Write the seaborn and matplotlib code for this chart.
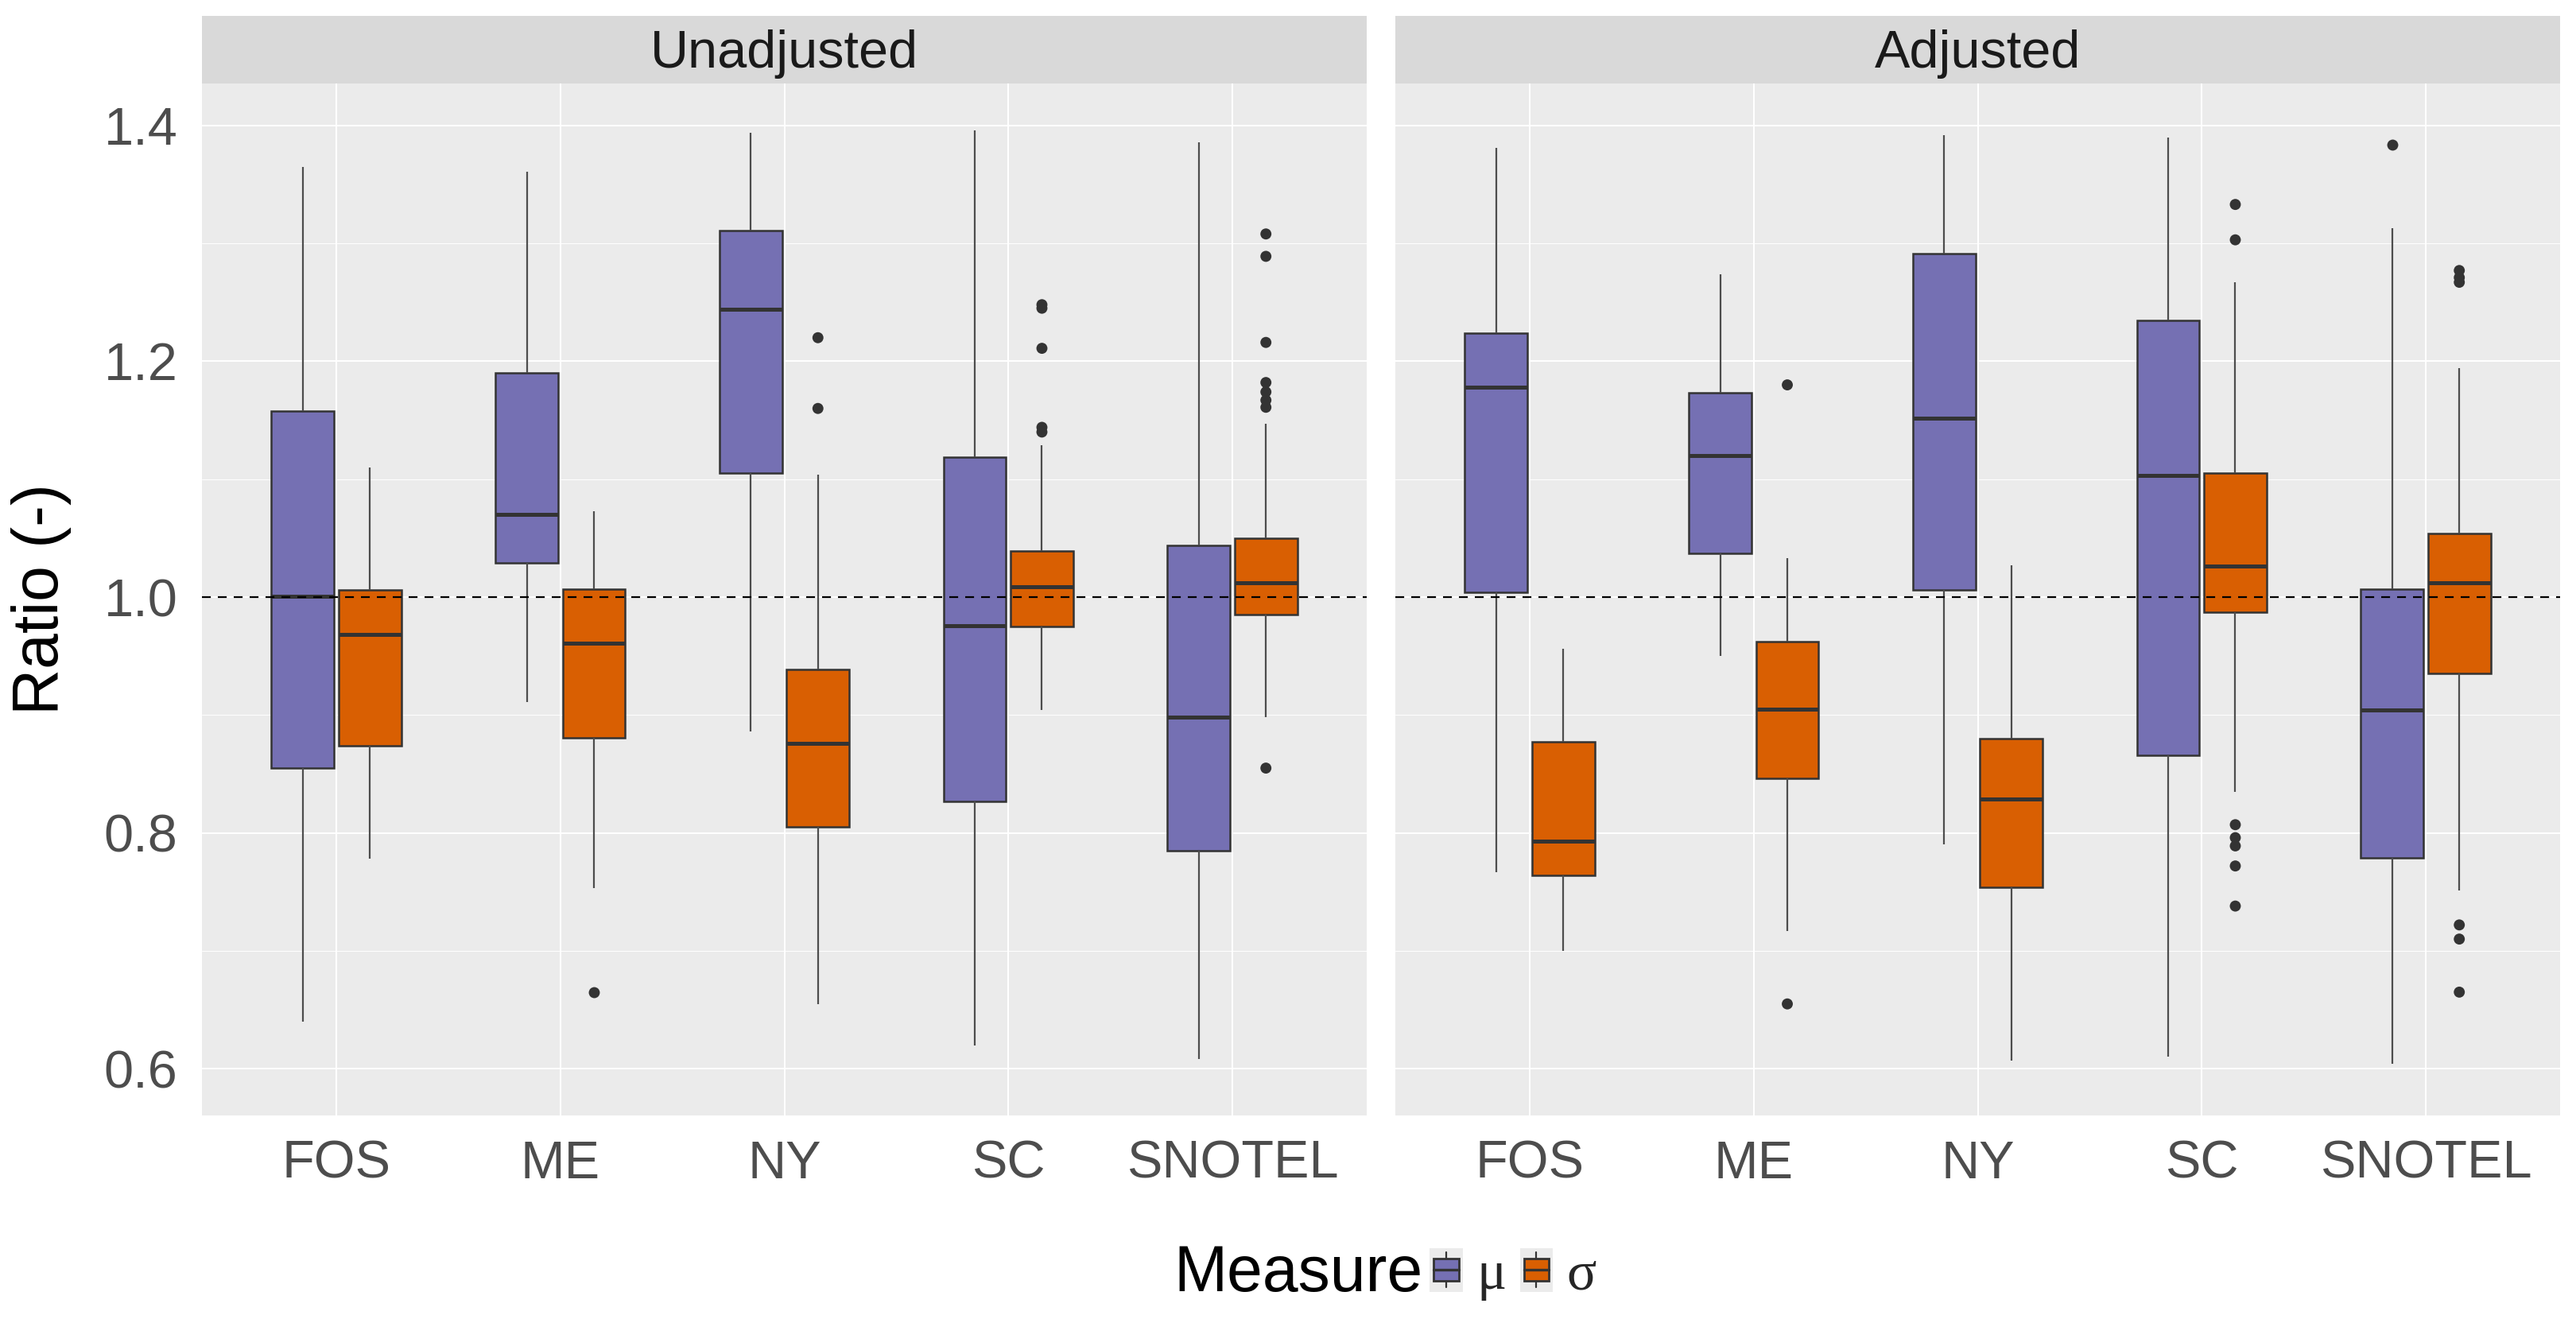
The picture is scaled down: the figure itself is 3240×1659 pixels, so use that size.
import numpy as np
import pandas as pd
import matplotlib
matplotlib.use('Agg')
import matplotlib.pyplot as plt
import seaborn as sns
from matplotlib.patches import Patch, Rectangle
from matplotlib.lines import Line2D
from matplotlib.legend_handler import HandlerBase
from matplotlib.ticker import FixedLocator

# categories
sites = ['FOS', 'ME', 'NY', 'SC', 'SNOTEL']
measures = ['\u03bc', '\u03c3']
panels = ['Unadjusted', 'Adjusted']

# Unadjusted, mu  (whisker low, q1, median, q3, whisker high)
unadj_mu_lo = [0.640, 0.911, 0.886, 0.620, 0.608]
unadj_mu_q1 = [0.855, 1.029, 1.105, 0.827, 0.785]
unadj_mu_med = [1.001, 1.070, 1.244, 0.976, 0.898]
unadj_mu_q3 = [1.158, 1.190, 1.311, 1.119, 1.044]
unadj_mu_hi = [1.365, 1.361, 1.394, 1.396, 1.386]
# Unadjusted, sigma
unadj_sd_lo = [0.778, 0.753, 0.655, 0.904, 0.898]
unadj_sd_q1 = [0.874, 0.881, 0.805, 0.975, 0.985]
unadj_sd_med = [0.968, 0.961, 0.876, 1.009, 1.012]
unadj_sd_q3 = [1.006, 1.007, 0.939, 1.039, 1.050]
unadj_sd_hi = [1.110, 1.073, 1.104, 1.129, 1.147]
# Adjusted, mu
adj_mu_lo = [0.767, 0.950, 0.790, 0.610, 0.604]
adj_mu_q1 = [1.004, 1.037, 1.006, 0.866, 0.779]
adj_mu_med = [1.178, 1.120, 1.152, 1.103, 0.904]
adj_mu_q3 = [1.224, 1.173, 1.291, 1.235, 1.007]
adj_mu_hi = [1.381, 1.274, 1.392, 1.390, 1.313]
# Adjusted, sigma
adj_sd_lo = [0.700, 0.717, 0.607, 0.835, 0.751]
adj_sd_q1 = [0.764, 0.846, 0.754, 0.987, 0.935]
adj_sd_med = [0.793, 0.905, 0.829, 1.026, 1.012]
adj_sd_q3 = [0.877, 0.962, 0.880, 1.105, 1.054]
adj_sd_hi = [0.956, 1.033, 1.027, 1.267, 1.194]

# outliers
unadj_sd_out_site = ['ME', 'NY', 'NY', 'SC', 'SC', 'SC', 'SC', 'SC',
                     'SNOTEL', 'SNOTEL', 'SNOTEL', 'SNOTEL', 'SNOTEL', 'SNOTEL', 'SNOTEL', 'SNOTEL']
unadj_sd_out_val = [0.665, 1.220, 1.160, 1.248, 1.245, 1.211, 1.144, 1.140,
                    1.308, 1.289, 1.216, 1.182, 1.174, 1.167, 1.161, 0.855]
adj_mu_out_site = ['SNOTEL']
adj_mu_out_val = [1.384]
adj_sd_out_site = ['ME', 'ME', 'SC', 'SC', 'SC', 'SC', 'SC', 'SC', 'SC',
                   'SNOTEL', 'SNOTEL', 'SNOTEL', 'SNOTEL', 'SNOTEL', 'SNOTEL']
adj_sd_out_val = [1.180, 0.655, 1.333, 1.303, 0.807, 0.796, 0.789, 0.772, 0.738,
                  1.277, 1.271, 1.267, 0.722, 0.710, 0.665]

colors = {'\u03bc': '#7570B3', '\u03c3': '#D95F02'}
line_col = '#333333'


def box_frame(stats_mu, stats_sd):
    '''five values per box -> quartiles come out exactly, whiskers at min/max'''
    rows = []
    for m, st in zip(measures, [stats_mu, stats_sd]):
        for i, s in enumerate(sites):
            for arr in st:
                rows.append({'site': s, 'measure': m, 'value': arr[i]})
    return pd.DataFrame(rows)


def out_frame(pairs):
    rows = []
    for m, (ss, vv) in pairs:
        for s, v in zip(ss, vv):
            rows.append({'site': s, 'measure': m, 'value': v})
    return pd.DataFrame(rows, columns=['site', 'measure', 'value'])


box_data = {
    'Unadjusted': box_frame(
        [unadj_mu_lo, unadj_mu_q1, unadj_mu_med, unadj_mu_q3, unadj_mu_hi],
        [unadj_sd_lo, unadj_sd_q1, unadj_sd_med, unadj_sd_q3, unadj_sd_hi]),
    'Adjusted': box_frame(
        [adj_mu_lo, adj_mu_q1, adj_mu_med, adj_mu_q3, adj_mu_hi],
        [adj_sd_lo, adj_sd_q1, adj_sd_med, adj_sd_q3, adj_sd_hi]),
}
out_data = {
    'Unadjusted': out_frame([('\u03c3', (unadj_sd_out_site, unadj_sd_out_val))]),
    'Adjusted': out_frame([('\u03bc', (adj_mu_out_site, adj_mu_out_val)),
                           ('\u03c3', (adj_sd_out_site, adj_sd_out_val))]),
}

sns.set_theme(style='darkgrid')
plt.rcParams['font.family'] = ['Liberation Sans', 'DejaVu Sans']
plt.rcParams['axes.facecolor'] = '#EBEBEB'
plt.rcParams['grid.color'] = 'white'


class BoxKey(HandlerBase):
    '''small boxplot glyph on grey key background, ggplot style'''
    def create_artists(self, legend, orig_handle, xdescent, ydescent, width, height, fontsize, trans):
        x0, y0 = -xdescent, -ydescent
        bg = Rectangle((x0, y0), width, height, facecolor='#EBEBEB', edgecolor='none', transform=trans)
        cx = x0 + width / 2
        wl = Line2D([cx, cx], [y0 + 0.1 * height, y0 + 0.9 * height], color=line_col, lw=0.8, transform=trans)
        box = Rectangle((x0 + 0.12 * width, y0 + 0.25 * height), 0.76 * width, 0.5 * height,
                        facecolor=orig_handle.get_facecolor(), edgecolor=line_col, lw=1.0, transform=trans)
        med = Line2D([x0 + 0.12 * width, x0 + 0.88 * width], [y0 + height / 2] * 2,
                     color=line_col, lw=1.2, transform=trans)
        return [bg, wl, box, med]


fig = plt.figure(figsize=(16.205, 8.295), dpi=200)
W, H = 3241, 1659
ax_bottom = 1 - 1403 / H
ax_height = (1403 - 105) / H
strip_height = (105 - 20) / H
lefts = [254 / W, 1755 / W]
width = 1465 / W

for k, panel in enumerate(panels):
    ax = fig.add_axes([lefts[k], ax_bottom, width, ax_height])
    sns.boxplot(data=box_data[panel], x='site', y='value', hue='measure',
                order=sites, hue_order=measures, palette=colors, saturation=1,
                width=0.6, gap=0.07, whis=(0, 100), showfliers=False, showcaps=False,
                linecolor=line_col, linewidth=0.9,
                medianprops={'linewidth': 1.8, 'color': line_col},
                whiskerprops={'linewidth': 0.8, 'color': '#4D4D4D'},
                legend=False, ax=ax)
    n_before = len(ax.collections)
    sns.stripplot(data=out_data[panel], x='site', y='value', hue='measure',
                  order=sites, hue_order=measures, palette={m: line_col for m in measures},
                  dodge=True, jitter=False, size=5, linewidth=0, legend=False, ax=ax)
    # stripplot dodges by 0.8 wide slots, boxes use 0.6: pull points onto box centres
    for coll in ax.collections[n_before:]:
        off = coll.get_offsets()
        if len(off):
            c = np.round(off[:, 0])
            off[:, 0] = c + (off[:, 0] - c) * 0.75
            coll.set_offsets(off)
        coll.set_zorder(4)

    ax.axhline(1.0, color='black', lw=0.8, ls=(0, (5, 4)), zorder=5)

    ax.set_xlim(-0.6, 4.6)
    ax.set_ylim(0.5604, 1.4356)
    ax.set_yticks([0.6, 0.8, 1.0, 1.2, 1.4])
    ax.yaxis.set_minor_locator(FixedLocator([0.7, 0.9, 1.1, 1.3]))
    ax.grid(which='major', color='white', lw=0.75)
    ax.grid(which='minor', axis='y', color='white', lw=0.35)
    ax.set_axisbelow(True)
    for sp in ax.spines.values():
        sp.set_visible(False)
    ax.set_xlabel('')
    ax.set_ylabel('')
    ax.tick_params(axis='both', which='major', length=3, width=0.7, color=line_col,
                   labelsize=24, labelcolor='#4D4D4D', pad=8)
    ax.tick_params(axis='y', which='minor', length=0)
    ax.set_xticks(range(len(sites)))
    ax.set_xticklabels(sites)
    if k == 0:
        ax.set_yticklabels(['0.6', '0.8', '1.0', '1.2', '1.4'])
    else:
        ax.tick_params(axis='y', which='both', left=False, labelleft=False)

    # facet strip
    sax = fig.add_axes([lefts[k], ax_bottom + ax_height, width, strip_height])
    sax.set_facecolor('#D9D9D9')
    sax.set_xticks([])
    sax.set_yticks([])
    sax.grid(False)
    for sp in sax.spines.values():
        sp.set_visible(False)
    sax.text(0.5, 0.43, panel, ha='center', va='center', fontsize=24, color='#1A1A1A',
             transform=sax.transAxes)

fig.text(52 / W, 1 - 754 / H, 'Ratio (-)', rotation=90, ha='center', va='center',
         fontsize=29, color='black')

# legend: title on the left, keys to the right
leg_y = 1 - 1603 / H
fig.text(1790 / W, leg_y, 'Measure', ha='right', va='center', fontsize=29, color='black')
handles = [Patch(facecolor=colors[m]) for m in measures]
fig.legend(handles=handles, labels=measures, loc='center left', bbox_to_anchor=(1798 / W, leg_y),
           ncol=2, frameon=False, handler_map={Patch: BoxKey()},
           prop={'family': 'Liberation Serif', 'size': 25},
           handlelength=0.6, handleheight=0.85, handletextpad=0.25, columnspacing=0.25,
           borderpad=0, borderaxespad=0)

fig.savefig('out.png', dpi=200, facecolor='white')
